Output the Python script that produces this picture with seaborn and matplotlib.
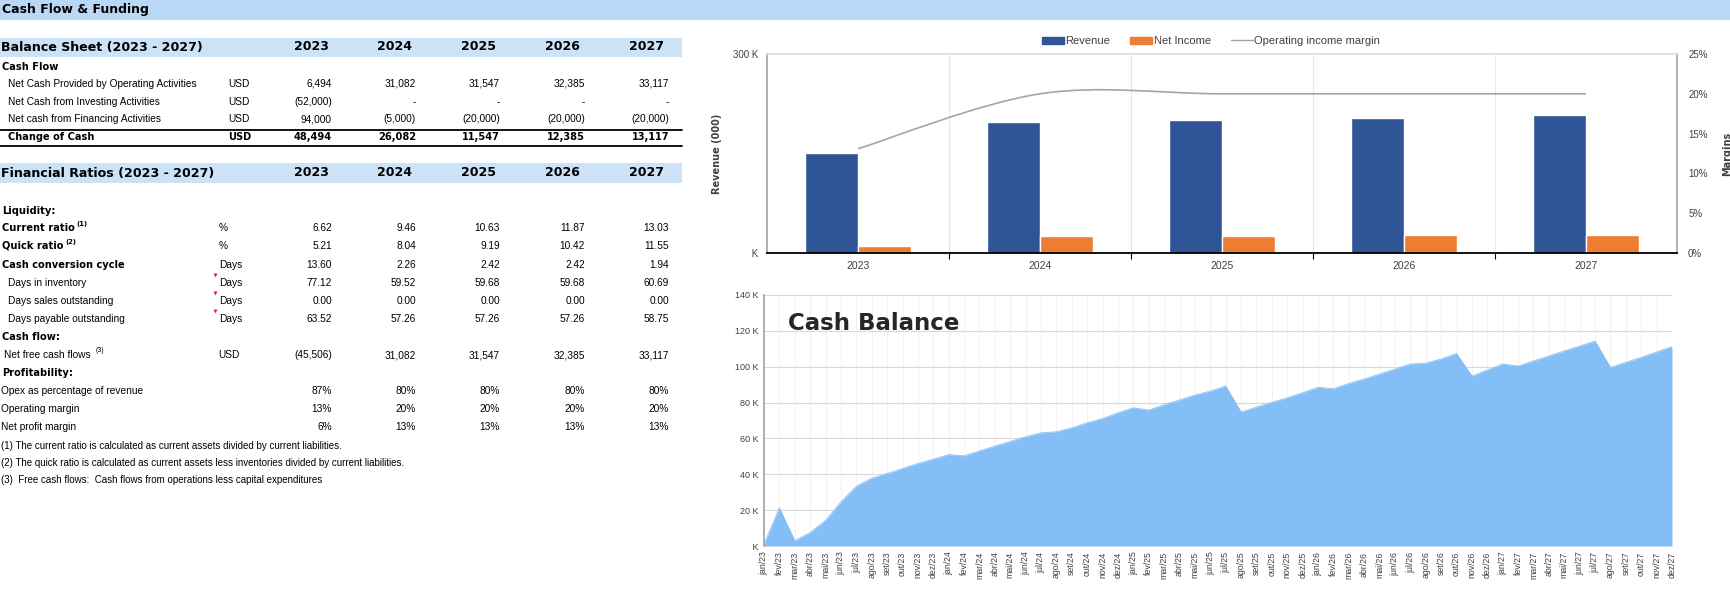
import numpy as np
import pandas as pd
import matplotlib
matplotlib.use('Agg')
import matplotlib.pyplot as plt
import seaborn as sns
from matplotlib.path import Path
from matplotlib.patches import PathPatch, Patch, Rectangle
from matplotlib.lines import Line2D

# ------------------------------------------------------------ #
# data
# ------------------------------------------------------------ #

years = ['2023', '2024', '2025', '2026', '2027']

# balance sheet table
op_cash = ['6,494', '31,082', '31,547', '32,385', '33,117']
inv_cash = ['(52,000)', '-', '-', '-', '-']
fin_cash = ['94,000', '(5,000)', '(20,000)', '(20,000)', '(20,000)']
change_cash = ['48,494', '26,082', '11,547', '12,385', '13,117']

# financial ratios table
current_ratio = ['6.62', '9.46', '10.63', '11.87', '13.03']
quick_ratio = ['5.21', '8.04', '9.19', '10.42', '11.55']
cash_cycle = ['13.60', '2.26', '2.42', '2.42', '1.94']
days_inventory = ['77.12', '59.52', '59.68', '59.68', '60.69']
days_sales = ['0.00', '0.00', '0.00', '0.00', '0.00']
days_payable = ['63.52', '57.26', '57.26', '57.26', '58.75']
free_cash = ['(45,506)', '31,082', '31,547', '32,385', '33,117']
opex_pct = ['87%', '80%', '80%', '80%', '80%']
op_margin_pct = ['13%', '20%', '20%', '20%', '20%']
net_margin_pct = ['6%', '13%', '13%', '13%', '13%']

footnotes = ['(1) The current ratio is calculated as current assets divided by current liabilities.',
             '(2) The quick ratio is calculated as current assets less inventories divided by current liabilities.',
             '(3)  Free cash flows:  Cash flows from operations less capital expenditures']

# revenue chart
revenue = [151000, 197000, 200000, 203000, 207500]
net_income = [10000, 25000, 25000, 26500, 26500]
op_margin = [0.131, 0.20, 0.20, 0.20, 0.20]

# cash balance chart
months = ['jan', 'fev', 'mar', 'abr', 'mai', 'jun', 'jul', 'ago', 'set', 'out', 'nov', 'dez']
month_labels = [m + '/' + y[2:] for y in years for m in months]
cash = [1000, 21200, 3000, 7500, 14300, 24600, 33300, 37800, 40400, 43200, 46000, 48400,
        51000, 50300, 53000, 55700, 58300, 60900, 63100, 63700, 65900, 68700, 71100, 74300,
        77100, 75800, 78800, 81400, 84200, 86400, 89200, 74700, 77500, 80100, 82700, 85500,
        88500, 87700, 90700, 93100, 95900, 98700, 101500, 102000, 104300, 107400, 94800, 98100,
        101500, 100400, 103200, 106000, 108800, 111500, 114300, 99600, 102400, 105200, 108200, 111200]

# ------------------------------------------------------------ #
# figure + background (pixel coords)
# ------------------------------------------------------------ #

W, H = 1731, 592
sns.set_theme(style='white')
plt.rcParams['font.family'] = ['DejaVu Sans']

fig = plt.figure(figsize=(W / 100, H / 100), dpi=100)
bg = fig.add_axes([0, 0, 1, 1])
bg.set_xlim(0, W)
bg.set_ylim(H, 0)
bg.axis('off')

NARROW = ['Liberation Sans Narrow', 'Liberation Sans', 'DejaVu Sans']
BOLD = ['DejaVu Sans']


def box(l, t, r, b):
    return [l / W, 1 - b / H, (r - l) / W, (b - t) / H]


def put(x, y, s, ha='left', bold=False, size=7.3, color='black'):
    bg.text(x, y, s, ha=ha, va='center', fontsize=size, color=color,
            fontweight='bold' if bold else 'normal',
            family=BOLD if bold else NARROW)


val_x = [332, 416, 500, 585, 669]
year_x = [329, 412, 496, 580, 664]
BSIZE = 7.1


def row(y, label, unit, vals, lx=8, ux=228, bold=False, label_bold=False):
    size = BSIZE if bold else 7.3
    put(lx, y, label, bold=bold or label_bold, size=BSIZE if (bold or label_bold) else 7.3)
    if unit:
        put(ux, y, unit, bold=bold, size=size)
    for x, v in zip(val_x, vals):
        put(x, y, v, ha='right', bold=bold, size=size)


# title band
bg.add_patch(Rectangle((0, 0), W, 20, color='#B9D8F5', lw=0))
put(2, 10, 'Cash Flow & Funding', bold=True, size=9)

# balance sheet
bg.add_patch(Rectangle((0, 38), 682, 19, color='#CCE3F7', lw=0))
put(1, 47, 'Balance Sheet (2023 - 2027)', bold=True, size=9.1)
for x, yr in zip(year_x, years):
    put(x, 47, yr, ha='right', bold=True, size=9)
put(2, 67, 'Cash Flow', bold=True, size=BSIZE)
row(84, 'Net Cash Provided by Operating Activities', 'USD', op_cash)
row(102, 'Net Cash from Investing Activities', 'USD', inv_cash)
row(119, 'Net cash from Financing Activities', 'USD', fin_cash)
bg.plot([0, 682], [130, 130], color='black', lw=1.3)
row(137, 'Change of Cash', 'USD', change_cash, bold=True)
bg.plot([0, 682], [146, 146], color='black', lw=1.3)

# financial ratios
bg.add_patch(Rectangle((0, 163), 682, 20, color='#CCE3F7', lw=0))
put(1, 173, 'Financial Ratios (2023 - 2027)', bold=True, size=9.1)
for x, yr in zip(year_x, years):
    put(x, 173, yr, ha='right', bold=True, size=9)

put(2, 211, 'Liquidity:', bold=True, size=BSIZE)
row(228, 'Current ratio', '%', current_ratio, lx=2, ux=219, label_bold=True)
row(246, 'Quick ratio', '%', quick_ratio, lx=2, ux=219, label_bold=True)
row(265, 'Cash conversion cycle', 'Days', cash_cycle, lx=2, ux=219, label_bold=True)
put(76, 224, '(1)', bold=True, size=5)
put(65, 242, '(2)', bold=True, size=5)
row(283, 'Days in inventory', 'Days', days_inventory, ux=219)
row(301, 'Days sales outstanding', 'Days', days_sales, ux=219)
row(319, 'Days payable outstanding', 'Days', days_payable, ux=219)
bg.scatter([215, 215, 215], [275, 293, 311], marker='v', s=8, color='#D92020', lw=0)

put(2, 337, 'Cash flow:', bold=True, size=BSIZE)
row(355, 'Net free cash flows', 'USD', free_cash, lx=4, ux=218)
put(96, 351, '(3)', size=5)
put(2, 373, 'Profitability:', bold=True, size=BSIZE)
row(391, 'Opex as percentage of revenue', '', opex_pct, lx=1)
row(409, 'Operating margin', '', op_margin_pct, lx=1)
row(427, 'Net profit margin', '', net_margin_pct, lx=1)
for yy, note in zip([446, 463, 480], footnotes):
    put(1, yy, note, size=7)

# ------------------------------------------------------------ #
# revenue / net income / margin chart
# ------------------------------------------------------------ #

ax1 = fig.add_axes(box(767, 54, 1677, 253))
bars = pd.DataFrame({'year': years * 2,
                     'value': revenue + net_income,
                     'series': ['Revenue'] * 5 + ['Net Income'] * 5})
sns.barplot(data=bars, x='year', y='value', hue='series', palette=['#2F5597', '#ED7D31'],
            width=0.58, saturation=1, legend=False, ax=ax1)
ax1.set_xlim(-0.5, 4.5)
ax1.set_ylim(0, 300000)
ax1.set_yticks([0, 300000])
ax1.set_yticklabels([' K', '300 K'], fontsize=7, color='#404040', family=NARROW)
ax1.set_xticks(range(5))
ax1.set_xticklabels(years, fontsize=7.5, color='#404040', family=NARROW)
ax1.set_xticks(np.arange(0.5, 4.5, 1), minor=True)
ax1.tick_params(axis='x', which='major', length=0, pad=6)
ax1.tick_params(axis='x', which='minor', length=4, width=0.8, color='black', direction='out', bottom=True)
ax1.tick_params(axis='y', length=0, pad=6)
ax1.grid(axis='x', which='minor', color='#E8E8E8', lw=0.8)
ax1.set_xlabel('')
ax1.set_ylabel('Revenue (000)', fontsize=7, fontweight='bold', color='#404040', labelpad=8)
for s in ['left', 'right']:
    ax1.spines[s].set_color('#A6A6A6')
ax1.spines['top'].set_color('#DDDDDD')
ax1.spines['bottom'].set_color('black')
ax1.spines['bottom'].set_linewidth(1.3)

ax2 = ax1.twinx()
ax2.set_ylim(0, 0.25)
ax2.set_yticks(np.arange(0, 0.26, 0.05))
ax2.set_yticklabels(['{:.0f}%'.format(v * 100) for v in np.arange(0, 0.26, 0.05)],
                    fontsize=7, color='#404040', family=NARROW)
ax2.tick_params(axis='y', length=0, pad=8)
ax2.set_ylabel('Margins', fontsize=7, fontweight='bold', color='#404040')
ax2.yaxis.set_label_coords(1.05, 0.5)
for s in ax2.spines.values():
    s.set_visible(False)

# smoothed margin line (catmull-rom style bezier through the data points)
px = np.arange(len(op_margin), dtype=float)
py = np.array(op_margin)
verts = [(px[0], py[0])]
codes = [Path.MOVETO]
for i in range(len(px) - 1):
    p0 = max(i - 1, 0)
    p3 = min(i + 2, len(px) - 1)
    c1 = (px[i] + (px[i + 1] - px[p0]) / 6, py[i] + (py[i + 1] - py[p0]) / 6)
    c2 = (px[i + 1] - (px[p3] - px[i]) / 6, py[i + 1] - (py[p3] - py[i]) / 6)
    verts += [c1, c2, (px[i + 1], py[i + 1])]
    codes += [Path.CURVE4] * 3
ax2.add_patch(PathPatch(Path(verts, codes), facecolor='none', edgecolor='#A5A5A5', lw=1.2))

handles = [Patch(color='#2F5597'), Patch(color='#ED7D31'), Line2D([], [], color='#A5A5A5', lw=1)]
bg.legend(handles, ['Revenue', 'Net Income', 'Operating income margin'], loc='center',
          bbox_to_anchor=(1211 / W, 1 - 41 / H), bbox_transform=fig.transFigure, ncol=3,
          frameon=False, prop={'family': NARROW, 'size': 8}, handlelength=2.0, handleheight=0.6,
          handletextpad=0.1, columnspacing=1.8, labelcolor='#404040')

# ------------------------------------------------------------ #
# cash balance chart
# ------------------------------------------------------------ #

ax3 = fig.add_axes(box(764, 295, 1672, 546))
xi = np.arange(len(cash))
ax3.fill_between(xi, cash, color='#84BEF6', lw=0)
sns.lineplot(x=xi, y=cash, color='#84BEF6', lw=0.6, ax=ax3)
ax3.set_xlim(0, len(cash) - 1)
ax3.set_ylim(0, 140000)
ax3.set_yticks(np.arange(0, 140001, 20000))
ax3.set_yticklabels([' K'] + ['{} K'.format(v // 1000) for v in range(20000, 140001, 20000)],
                    fontsize=6.5, color='#404040', family=NARROW)
ax3.set_xticks(xi)
ax3.set_xticklabels(month_labels, rotation=90, fontsize=6.3, color='#404040', family=NARROW)
ax3.tick_params(length=0, pad=4)
ax3.grid(axis='y', color='#D9D9D9', lw=0.8)
ax3.grid(axis='x', color='#F0F0F0', lw=0.6)
ax3.set_axisbelow(True)
for s in ['top', 'right', 'bottom']:
    ax3.spines[s].set_visible(False)
ax3.spines['left'].set_color('#A6A6A6')

fig.text(788 / W, 1 - 323 / H, 'Cash Balance', fontsize=16.5, fontweight='bold', va='center')

fig.savefig('out.png', dpi=100)
